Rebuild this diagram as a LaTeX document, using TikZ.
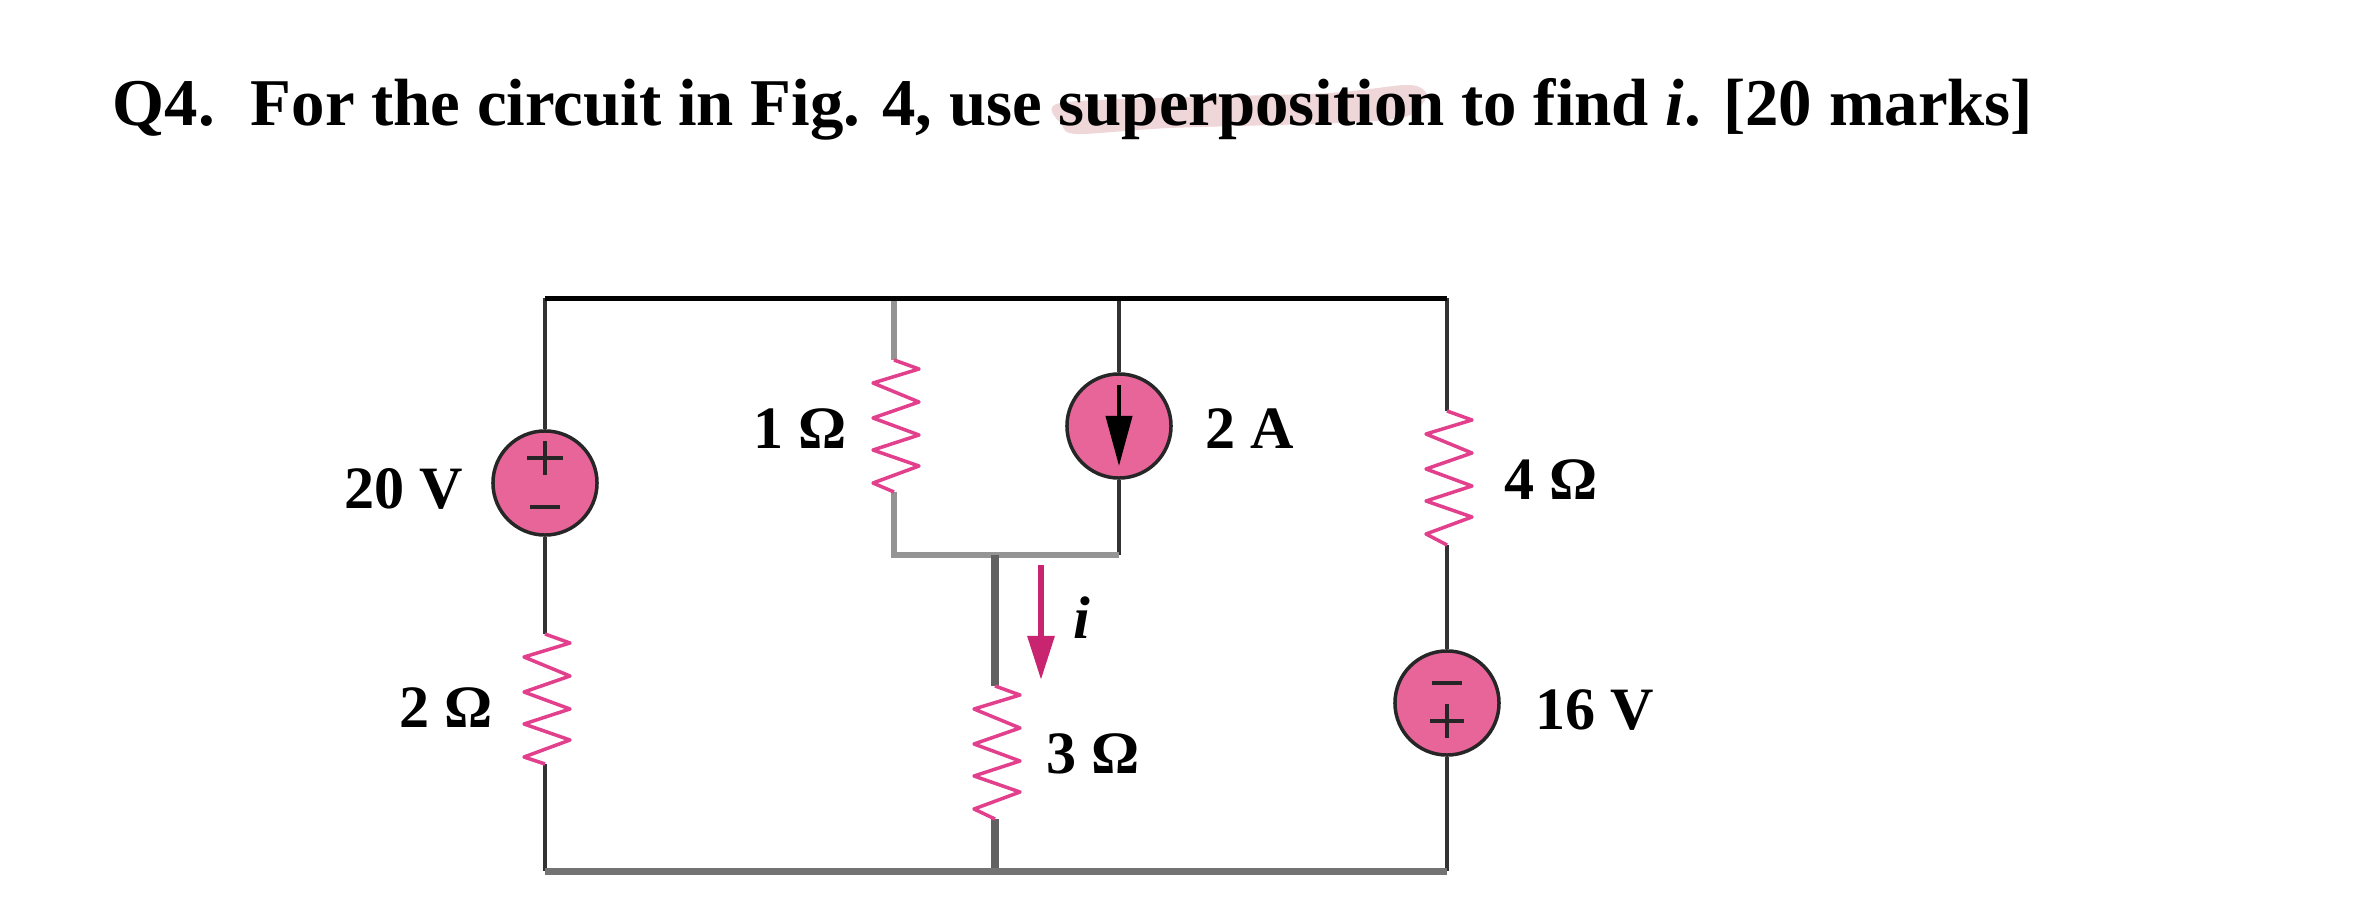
\documentclass[tikz,border=0pt]{standalone}
\usepackage{fontspec}
\setmainfont{Liberation Serif}
\usetikzlibrary{arrows.meta}
\definecolor{srcpink}{HTML}{E8659A}
\definecolor{respink}{HTML}{E23F8C}
\definecolor{arrowpink}{HTML}{C8246F}
\definecolor{markpink}{HTML}{EFD6D8}
\tikzset{
  wiretop/.style={black, line width=0.05cm},
  wirethin/.style={black!80, line width=0.035cm},
  wiregrey/.style={black!42, line width=0.06cm},
  wirefat/.style={black!62, line width=0.08cm},
  wirebase/.style={black!55, line width=0.07cm},
  res/.style={respink, line width=0.035cm, line join=round},
  src/.style={circle, draw=black!85, fill=srcpink, line width=0.035cm, minimum size=1.04cm, inner sep=0pt},
  sign/.style={black!85, line width=0.04cm},
  lab/.style={anchor=base west, inner sep=0pt, font=\fontsize{17.1}{20}\selectfont\bfseries},
}
\newcommand{\zigres}[2]{\draw[res] (#1) -- ++(25,9) -- ++(-46,14) -- ++(46,19) -- ++(-46,16) -- ++(46,17) -- ++(-46,15) -- ++(46,16) -- ++(-46,17) -- (#2);}
\begin{document}
\begin{tikzpicture}[x=0.01cm,y=-0.01cm]
  \useasboundingbox (0,0) rectangle (2374,918);

  % Marker stroke under the question
  \fill[markpink] plot[smooth cycle] coordinates {(1060,103) (1200,97) (1330,93) (1405,85) (1424,90) (1425,100) (1405,117) (1340,123) (1170,128) (1078,134) (1062,125)};
  \node[anchor=base west, inner sep=0pt, font=\fontsize{19}{24}\selectfont\bfseries] (title) at (112,125) {Q4.\hspace{0.36cm}For the circuit in Fig. 4, use superposition to find \textit{i}. [20 marks]};

  % Corners and junctions
  \coordinate (tl) at (545,298);
  \coordinate (tm) at (894,298);
  \coordinate (ta) at (1119,298);
  \coordinate (tr) at (1447,298);
  \coordinate (jl) at (894,555);
  \coordinate (jm) at (995,555);
  \coordinate (jr) at (1119,555);
  \coordinate (bl) at (545,871);
  \coordinate (bm) at (995,871);
  \coordinate (br) at (1447,871);

  % Resistor ends
  \coordinate (r1a) at (894,360);
  \coordinate (r1b) at (894,492);
  \coordinate (r2a) at (545,634);
  \coordinate (r2b) at (545,764);
  \coordinate (r3a) at (995,686);
  \coordinate (r3b) at (995,819);
  \coordinate (r4a) at (1447,411);
  \coordinate (r4b) at (1447,545);

  % Sources
  \node[src] (v20) at (545,483) {};
  \node[src] (a2) at (1119,426) {};
  \node[src] (v16) at (1447,703) {};

  % Wires
  \draw[wirethin] (tl) -- (v20);
  \draw[wirethin] (v20) -- (r2a);
  \draw[wirethin] (r2b) -- (bl);
  \draw[wirethin] (tr) -- (r4a);
  \draw[wirethin] (r4b) -- (v16);
  \draw[wirethin] (v16) -- (br);
  \draw[wirethin] (ta) -- (a2);
  \draw[wirethin] (a2) -- (jr);
  \draw[wiregrey] (tm) -- (r1a);
  \draw[wiregrey] (r1b) -- (jl) -- (jr);
  \draw[wirefat] (jm) -- (r3a);
  \draw[wirefat] (r3b) -- (bm);
  \draw[wiretop] (tl) -- (tr);
  \draw[wirebase] (bl) -- (br);

  % Resistors
  \zigres{r1a}{r1b}
  \zigres{r2a}{r2b}
  \zigres{r3a}{r3b}
  \zigres{r4a}{r4b}

  % Source marks
  \draw[sign] (527,458) -- (563,458);
  \draw[sign] (545,441) -- (545,475);
  \draw[sign] (530,507) -- (560,507);
  \draw[sign] (1432,683) -- (1462,683);
  \draw[sign] (1430,721) -- (1464,721);
  \draw[sign] (1447,704) -- (1447,738);
  \coordinate (a2top) at (1119,385);
  \coordinate (a2tip) at (1119,466);
  \draw[-{Triangle[length=0.5cm,width=0.26cm]},black,line width=0.04cm] (a2top) -- (a2tip);

  % Current arrow
  \coordinate (itop) at (1041,565);
  \coordinate (itip) at (1041,680);
  \draw[-{Triangle[length=0.44cm,width=0.26cm]},arrowpink,line width=0.06cm] (itop) -- (itip);

  % Labels
  \node[lab] (l20) at (344,508) {20 V};
  \node[lab] (l2) at (399,727) {2 Ω};
  \node[lab] (l1) at (753,448) {1 Ω};
  \node[lab] (l2a) at (1205,448) {2 A};
  \node[lab] (l4) at (1504,499) {4 Ω};
  \node[lab] (l16) at (1535,729) {16 V};
  \node[lab] (l3) at (1046,773) {3 Ω};
  \node[lab] (li) at (1073,638) {\textit{i}};
\end{tikzpicture}
\end{document}
